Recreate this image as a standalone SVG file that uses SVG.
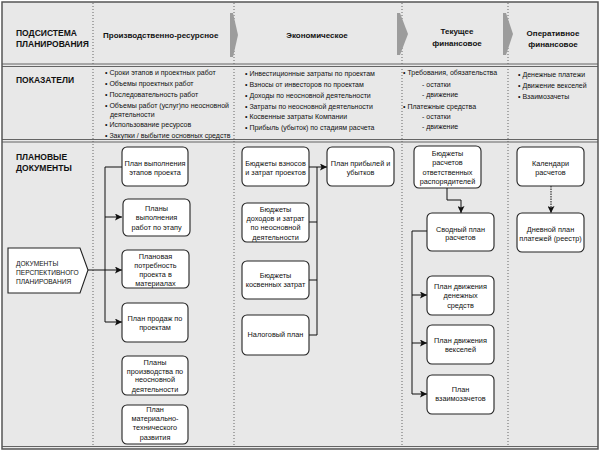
<svg xmlns="http://www.w3.org/2000/svg" width="600" height="452" viewBox="0 0 600 452">
<style>
text{font-family:"Liberation Sans",Arial,sans-serif;fill:#111}
.hb{font-size:8.5px;font-weight:bold}
.hc{font-size:8px;font-weight:bold}
.bl{font-size:7px}
.bx{font-size:7.3px;text-anchor:middle}
.pt{font-size:6.6px}
.box{fill:#fff;stroke:#222;stroke-width:1.1}
.div{stroke:#666;stroke-width:1;stroke-dasharray:1 2;fill:none}
.sep{stroke:#555;stroke-width:0.9}
.chev{fill:#9c9c9c}
.cn{fill:none;stroke:#111;stroke-width:1}
</style>
<defs>
<marker id="ah" markerUnits="userSpaceOnUse" markerWidth="7" markerHeight="7" refX="7" refY="3.5" orient="auto">
<path d="M0,0 L7,3.5 L0,7 L1.5,3.5 z" fill="#111"/>
</marker>
</defs>
<g id="frame">
<rect x="2" y="2" width="596" height="447" fill="#e8e8e8" stroke="#555" stroke-width="1.5"/>
<line class="sep" x1="2" y1="64" x2="598" y2="64"/>
<line class="sep" x1="2" y1="66.5" x2="598" y2="66.5"/>
<line class="sep" x1="2" y1="139.5" x2="598" y2="139.5"/>
<line class="sep" x1="2" y1="142" x2="598" y2="142"/>
<line class="sep" x1="2" y1="446.5" x2="598" y2="446.5"/>
<line class="div" x1="93" y1="3" x2="93" y2="446"/>
<line class="div" x1="234" y1="3" x2="234" y2="446"/>
<line class="div" x1="402" y1="3" x2="402" y2="446"/>
<line class="div" x1="508" y1="3" x2="508" y2="446"/>
<polygon class="chev" points="230,13 233,13 238,35 233,57 230,57"/>
<polygon class="chev" points="397,13 400,13 408,34 400,55 397,55"/>
<polygon class="chev" points="503,13 506,13 513,34 506,55 503,55"/>
</g>
<g id="header">
<text class="hb" x="16" y="36">ПОДСИСТЕМА</text>
<text class="hb" x="16" y="46.5">ПЛАНИРОВАНИЯ</text>
<text class="hc" x="103" y="38">Производственно-ресурсное</text>
<text class="hc" x="317" y="38" text-anchor="middle">Экономическое</text>
<text class="hc" x="457" y="34" text-anchor="middle">Текущее</text>
<text class="hc" x="457" y="46" text-anchor="middle">финансовое</text>
<text class="hc" x="553" y="36" text-anchor="middle">Оперативное</text>
<text class="hc" x="553" y="47" text-anchor="middle">финансовое</text>
</g>
<g id="indicators">
<text class="hb" x="16" y="83">ПОКАЗАТЕЛИ</text>
<text class="bl" x="105" y="74.5">•  Сроки этапов и проектных работ</text>
<text class="bl" x="105" y="85.5">•  Объемы проектных работ</text>
<text class="bl" x="105" y="96.5">•  Последовательность работ</text>
<text class="bl" x="105" y="107.5">•  Объемы работ (услуг)по неосновной</text>
<text class="bl" x="110" y="116.5">деятельности</text>
<text class="bl" x="105" y="127">•  Использование ресурсов</text>
<text class="bl" x="105" y="137.5">•  Закупки / выбытие основных средств</text>
<text class="bl" x="245" y="75.5">•  Инвестиционные затраты по проектам</text>
<text class="bl" x="245" y="86.5">•  Взносы от инвесторов по проектам</text>
<text class="bl" x="245" y="97.5">•  Доходы по неосновной деятельности</text>
<text class="bl" x="245" y="108.5">•  Затраты по неосновной деятельности</text>
<text class="bl" x="245" y="119">•  Косвенные затраты Компании</text>
<text class="bl" x="245" y="130">•  Прибыль (убыток) по стадиям расчета</text>
<text class="bl" x="403" y="74.5">•  Требования, обязательства</text>
<text class="bl" x="422" y="86.5">- остатки</text>
<text class="bl" x="422" y="96.5">- движение</text>
<text class="bl" x="403" y="108.5">•  Платежные средства</text>
<text class="bl" x="422" y="118.5">- остатки</text>
<text class="bl" x="422" y="128.5">- движение</text>
<text class="bl" x="518" y="76.5">•  Денежные платежи</text>
<text class="bl" x="518" y="87.5">•  Движение векселей</text>
<text class="bl" x="518" y="99">•  Взаимозачеты</text>
</g>
<g id="plan-label">
<text class="hb" x="16" y="160">ПЛАНОВЫЕ</text>
<text class="hb" x="16" y="171">ДОКУМЕНТЫ</text>
</g>
<g id="connectors">
<path class="cn" d="M105,167 V322"/>
<path class="cn" d="M105,167 H122"/>
<path class="cn" d="M105,217 H122" marker-end="url(#ah)"/>
<path class="cn" d="M88,270 H122" marker-end="url(#ah)"/>
<path class="cn" d="M105,322 H122" marker-end="url(#ah)"/>
<path class="cn" d="M317,167 V335"/>
<path class="cn" d="M309,222 H317"/>
<path class="cn" d="M309,280 H317"/>
<path class="cn" d="M309,335 H317"/>
<path class="cn" d="M309,167 H327" marker-end="url(#ah)"/>
<path class="cn" d="M447,188 V200 H461 V213" marker-end="url(#ah)"/>
<path class="cn" d="M427,231 H412 V394"/>
<path class="cn" d="M412,295 H427" marker-end="url(#ah)"/>
<path class="cn" d="M412,343 H427" marker-end="url(#ah)"/>
<path class="cn" d="M412,394 H427" marker-end="url(#ah)"/>
<path class="cn" d="M551,186 V213" stroke-dasharray="1.5 1" marker-end="url(#ah)"/>
</g>
<g id="n-perspective">
<polygon points="8,248 80,248 88,270 80,293 8,293" fill="#fff" stroke="#222" stroke-width="1.1"/>
<text class="pt" x="16" y="266">ДОКУМЕНТЫ</text>
<text class="pt" x="16" y="275">ПЕРСПЕКТИВНОГО</text>
<text class="pt" x="16" y="284">ПЛАНИРОВАНИЯ</text>
</g>
<g id="n1"><rect class="box" x="122" y="147" width="66" height="39" rx="5"/>
<text class="bx" x="155" y="165.5">План выполнения</text><text class="bx" x="155" y="174.5">этапов проекта</text></g>
<g id="n2"><rect class="box" x="123" y="199" width="67" height="37" rx="5"/>
<text class="bx" x="156.5" y="210.5">Планы</text><text class="bx" x="156.5" y="219.5">выполнения</text><text class="bx" x="156.5" y="229.5">работ по этапу</text></g>
<g id="n3"><rect class="box" x="122" y="250" width="67" height="38" rx="5"/>
<text class="bx" x="155.5" y="258.5">Плановая</text><text class="bx" x="155.5" y="268">потребность</text><text class="bx" x="155.5" y="277">проекта в</text><text class="bx" x="155.5" y="286">материалах</text></g>
<g id="n4"><rect class="box" x="122" y="303" width="66" height="39" rx="5"/>
<text class="bx" x="155" y="320.5">План продаж по</text><text class="bx" x="155" y="329.5">проектам</text></g>
<g id="n5"><rect class="box" x="122" y="356" width="66" height="39" rx="5"/>
<text class="bx" x="155" y="364.5">Планы</text><text class="bx" x="155" y="373.5">производства по</text><text class="bx" x="155" y="382">неосновной</text><text class="bx" x="155" y="391.5">деятельности</text></g>
<g id="n6"><rect class="box" x="122" y="405" width="66" height="39" rx="5"/>
<text class="bx" x="155" y="411.5">План</text><text class="bx" x="155" y="420.5">материально-</text><text class="bx" x="155" y="430">технического</text><text class="bx" x="155" y="439.5">развития</text></g>
<g id="nA"><rect class="box" x="242" y="147" width="67" height="39" rx="5"/>
<text class="bx" x="275.5" y="165.5">Бюджеты взносов</text><text class="bx" x="275.5" y="174.5">и затрат проектов</text></g>
<g id="nB"><rect class="box" x="242" y="203" width="67" height="39" rx="5"/>
<text class="bx" x="275.5" y="212">Бюджеты</text><text class="bx" x="275.5" y="221">доходов и затрат</text><text class="bx" x="275.5" y="230">по неосновной</text><text class="bx" x="275.5" y="239.5">деятельности</text></g>
<g id="nC"><rect class="box" x="242" y="261" width="67" height="38" rx="5"/>
<text class="bx" x="275.5" y="277.5">Бюджеты</text><text class="bx" x="275.5" y="287">косвенных затрат</text></g>
<g id="nD"><rect class="box" x="242" y="315" width="67" height="40" rx="5"/>
<text class="bx" x="275.5" y="337">Налоговый план</text></g>
<g id="nE"><rect class="box" x="327" y="147" width="67" height="39" rx="5"/>
<text class="bx" x="360.5" y="165.5">План прибылей и</text><text class="bx" x="360.5" y="174.5">убытков</text></g>
<g id="nF"><rect class="box" x="414" y="146" width="67" height="42" rx="5"/>
<text class="bx" x="447.5" y="155.5">Бюджеты</text><text class="bx" x="447.5" y="165">расчетов</text><text class="bx" x="447.5" y="174.5">ответственных</text><text class="bx" x="447.5" y="184">распорядителей</text></g>
<g id="nG"><rect class="box" x="427" y="213" width="67" height="38" rx="5"/>
<text class="bx" x="460.5" y="231.5">Сводный план</text><text class="bx" x="460.5" y="240">расчетов</text></g>
<g id="nH"><rect class="box" x="427" y="276" width="67" height="39" rx="5"/>
<text class="bx" x="460.5" y="288.5">План движения</text><text class="bx" x="460.5" y="297.5">денежных</text><text class="bx" x="460.5" y="307.5">средств</text></g>
<g id="nI"><rect class="box" x="427" y="325" width="67" height="39" rx="5"/>
<text class="bx" x="460.5" y="342.5">План движения</text><text class="bx" x="460.5" y="351.5">векселей</text></g>
<g id="nJ"><rect class="box" x="427" y="375" width="67" height="39" rx="5"/>
<text class="bx" x="460.5" y="391.5">План</text><text class="bx" x="460.5" y="400.5">взаимозачетов</text></g>
<g id="nK"><rect class="box" x="517" y="147" width="67" height="39" rx="5"/>
<text class="bx" x="550.5" y="165.5">Календари</text><text class="bx" x="550.5" y="174.5">расчетов</text></g>
<g id="nL"><rect class="box" x="517" y="213" width="67" height="39" rx="5"/>
<text class="bx" x="550.5" y="231.5">Дневной план</text><text class="bx" x="550.5" y="240.5">платежей (реестр)</text></g>
</svg>
